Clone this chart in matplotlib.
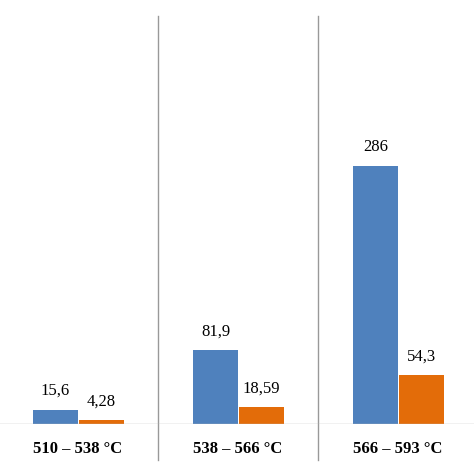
import matplotlib.pyplot as plt
import numpy as np

categories = ['510 – 538 °C', '538 – 566 °C', '566 – 593 °C']
blue_vals = [15.6, 81.9, 286]
orange_vals = [4.28, 18.59, 54.3]
blue_labels = ['15,6', '81,9', '286']
orange_labels = ['4,28', '18,59', '54,3']

plt.rcParams['font.family'] = ['Liberation Serif', 'DejaVu Serif']

fig = plt.figure(figsize=(4.74, 4.74), dpi=100)
ax = fig.add_axes([-2 / 474, 50 / 474, 480 / 474, 424 / 474])
x = np.arange(len(categories))
w = 0.28
ax.bar(x - 0.14, blue_vals, w, color='#4f81bd')
ax.bar(x + 0.145, orange_vals, w, color='#e36c09')
for i in x:
    ax.text(i - 0.14, blue_vals[i] + 12, blue_labels[i], ha='center', va='bottom', fontsize=12)
    ax.text(i + 0.145, orange_vals[i] + 12, orange_labels[i], ha='center', va='bottom', fontsize=12)
    ax.text(i, -28, categories[i], ha='center', va='center', fontsize=12, fontweight='bold')
for s in [0.5, 1.5]:
    ax.plot([s, s], [-40, 452], color='#999999', lw=1, clip_on=False)
ax.axhline(0, color='#bbbbbb', lw=1)
ax.set_xlim(-0.5, 2.5)
ax.set_ylim(0, 470)
ax.axis('off')
fig.savefig('out.png', dpi=100)
